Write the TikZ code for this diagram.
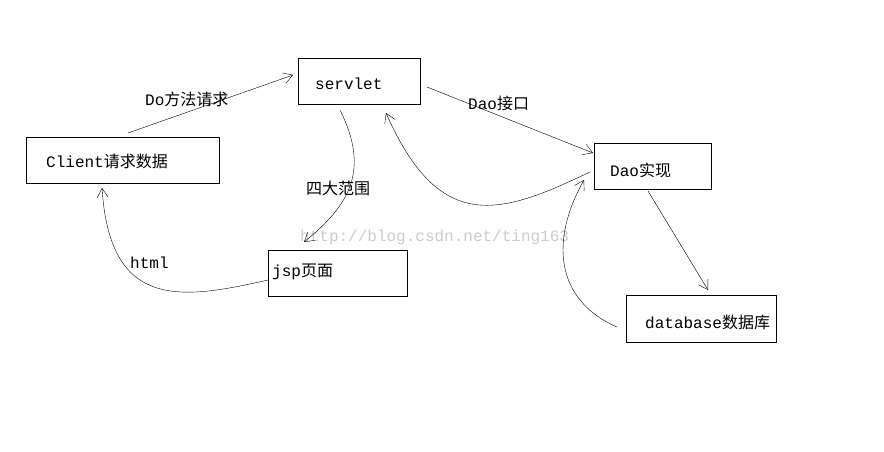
\documentclass[tikz,border=0pt]{standalone}
\usepackage{fontspec}
\setmainfont{Liberation Mono}
\newfontfamily\cjk{Noto Sans CJK SC}
\usetikzlibrary{arrows.meta}
\tikzset{box/.style={draw,thin,inner sep=0pt},
  txt/.style={anchor=west,inner sep=0pt},
  link/.style={thin,-{Straight Barb[length=9pt,width=11pt]}}}
\begin{document}
\begin{tikzpicture}[x=1pt,y=-1pt,font=\fontsize{16}{18}\selectfont]
  \useasboundingbox[fill=white] (0,0) rectangle (884,452);
  \node[box,minimum width=122,minimum height=46] (servlet) at (359,81) {};
  \node[txt] at (315,84) {servlet};
  \node[box,minimum width=193,minimum height=46] (client) at (122.5,160) {};
  \node[txt] at (46,161) {Client{\cjk 请求数据}};
  \node[box,minimum width=117,minimum height=46] (dao) at (652.5,166) {};
  \node[txt] at (610,170) {Dao{\cjk 实现}};
  \node[box,minimum width=139,minimum height=46] (jsp) at (337.5,273) {};
  \node[txt] at (272,272) {jsp{\cjk 页面}};
  \node[box,minimum width=150,minimum height=47] (db) at (701,318.5) {};
  \node[txt] at (645,322) {database{\cjk 数据库}};
  % labels
  \node[txt] (do) at (145,99) {Do{\cjk 方法请求}};
  \node[txt] (if) at (468,103) {Dao{\cjk 接口}};
  \node[txt] (scope) at (306,188) {\cjk 四大范围};
  \node[txt] (html) at (130,263) {html};
  \node[txt,gray!40] (mark) at (300,237) {http://blog.csdn.net/ting163};
  % connectors
  \coordinate (c1) at (128,133);
  \coordinate (s1) at (293,75);
  \draw[link] (c1) -- (s1);
  \coordinate (s2) at (427,87);
  \coordinate (d1) at (593,153);
  \draw[link] (s2) -- (d1);
  \coordinate (d2) at (590,172);
  \coordinate (s3) at (386,113);
  \draw[link] (d2) .. controls (500,215) and (440,235) .. (s3);
  \coordinate (s4) at (340,110);
  \coordinate (j1) at (304,242);
  \draw[link] (s4) .. controls (370,170) and (350,205) .. (j1);
  \coordinate (j2) at (268,280);
  \coordinate (c2) at (102,188);
  \draw[link] (j2) .. controls (180,300) and (110,310) .. (c2);
  \coordinate (d3) at (648,191);
  \coordinate (b1) at (708,290);
  \draw[link] (d3) -- (b1);
  \coordinate (b2) at (617,327);
  \coordinate (d4) at (584,180);
  \draw[link] (b2) .. controls (555,300) and (550,240) .. (d4);
\end{tikzpicture}
\end{document}
